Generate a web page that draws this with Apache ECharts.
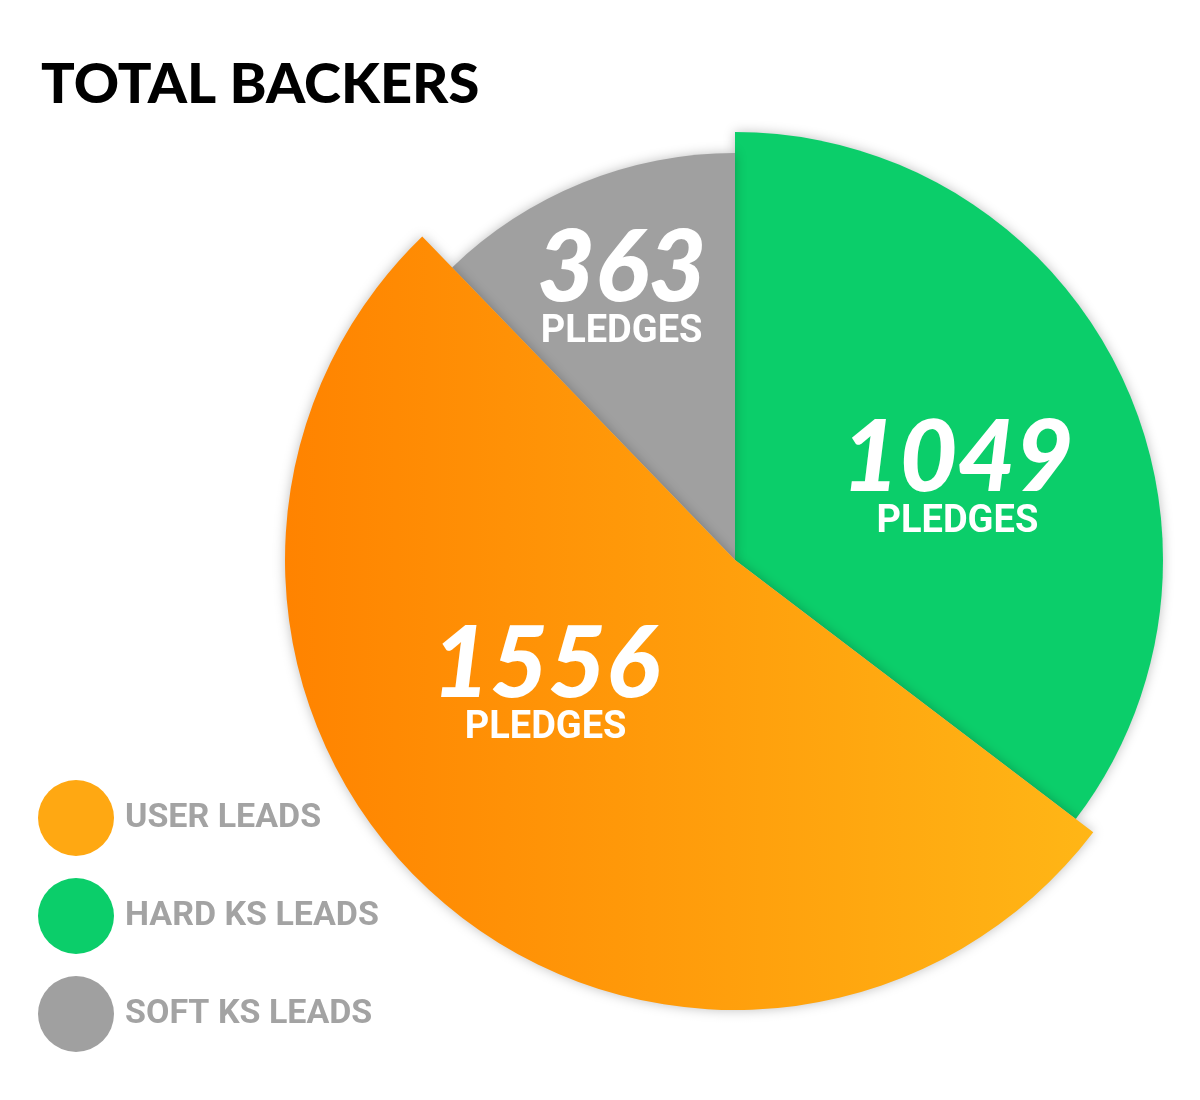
<!DOCTYPE html>
<html>
<head>
<meta charset="utf-8">
<script src="https://cdn.jsdelivr.net/npm/echarts@6/dist/echarts.min.js"></script>
<style>html,body{margin:0;padding:0;background:#fff}#chart{width:1200px;height:1100px}</style>
</head>
<body>
<div id="chart"></div>
<script>
// categories and values
var categories = ['HARD KS LEADS', 'USER LEADS', 'SOFT KS LEADS'];
var values = [1049, 1556, 363];
var legendOrder = ['USER LEADS', 'HARD KS LEADS', 'SOFT KS LEADS'];

var colors = [
    '#0BCE6A',
    new echarts.graphic.LinearGradient(0, 0, 1, 0, [{offset: 0, color: '#FF8300'}, {offset: 1, color: '#FFB616'}]),
    '#A0A0A0'
];
var legendColors = {'USER LEADS': '#FFA812', 'HARD KS LEADS': '#0BCE6A', 'SOFT KS LEADS': '#A0A0A0'};
var radii = [428, 450, 407];
var labelOffsets = [[28, 15], [-38, -46], [-36, -80]];

var myChart = echarts.init(document.getElementById('chart'));

// one series per slice so each slice can have its own radius
var series = [];
for (var k = 0; k < categories.length; k++) {
    var data = [];
    for (var i = 0; i < categories.length; i++) {
        var item = {name: categories[i], value: values[i]};
        if (i == k) {
            item.itemStyle = {color: colors[i], shadowBlur: 12, shadowColor: 'rgba(0,0,0,0.25)'};
            item.label = {show: true, offset: labelOffsets[i]};
        } else {
            item.itemStyle = {color: 'rgba(0,0,0,0)'};
            item.label = {show: false};
        }
        data.push(item);
    }
    series.push({
        type: 'pie',
        name: categories[k],
        center: [735, 560],
        radius: [0, radii[k]],
        startAngle: 90,
        clockwise: true,
        silent: true,
        z: k == 1 ? 3 : 2,
        label: {
            position: 'inside',
            formatter: function (p) { return '{n|' + p.value + '}\n{p|PLEDGES}'; },
            rich: {
                n: {fontSize: 100, fontWeight: 900, fontStyle: 'italic', color: '#fff', fontFamily: 'Lato', lineHeight: 88, align: 'center'},
                p: {fontSize: 38, fontWeight: 'bold', color: '#fff', fontFamily: 'Roboto', lineHeight: 40, align: 'center'}
            }
        },
        labelLine: {show: false},
        data: data
    });
}

var legendData = legendOrder.map(function (n) {
    return {name: n, icon: 'circle', itemStyle: {color: legendColors[n]}};
});

var option = {
    backgroundColor: '#fff',
    animation: false,
    title: {
        text: 'TOTAL BACKERS',
        left: 36, top: 52,
        textStyle: {fontSize: 56, fontWeight: 900, color: '#000', fontFamily: 'Lato'}
    },
    legend: {
        orient: 'vertical',
        left: 33, top: 775,
        itemWidth: 76, itemHeight: 76, itemGap: 22,
        selectedMode: false,
        data: legendData,
        textStyle: {fontSize: 34, fontWeight: 'bold', color: '#A3A3A3', fontFamily: 'Roboto', padding: [0, 0, 0, 6]}
    },
    series: series
};
myChart.setOption(option);
</script>
</body>
</html>
